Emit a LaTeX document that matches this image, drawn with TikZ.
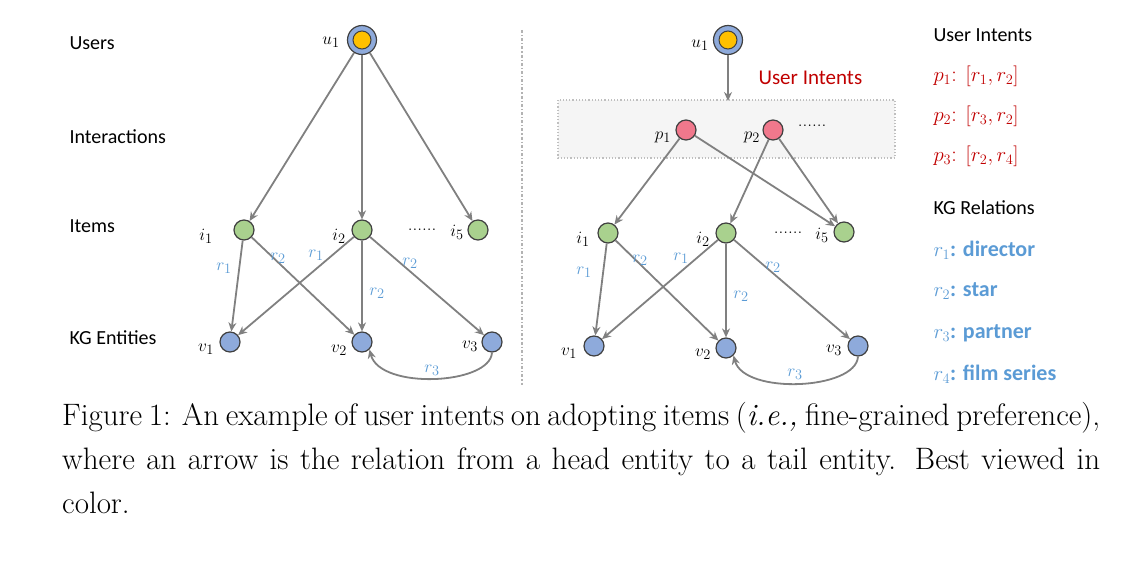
\documentclass[tikz,border=0pt]{standalone}
\usepackage{fontspec}
\newfontfamily\crl{Carlito}
\usetikzlibrary{arrows.meta}
\definecolor{eg}{RGB}{128,128,128}
\definecolor{bf}{RGB}{142,170,219}
\definecolor{gf}{RGB}{169,209,142}
\definecolor{pf}{RGB}{240,120,140}
\definecolor{of}{RGB}{255,192,0}
\definecolor{tb}{RGB}{91,155,213}
\definecolor{tr}{RGB}{192,0,0}
\begin{document}
\begin{tikzpicture}[x=1pt,y=-1pt,
 nd/.style={circle,draw=black!75,line width=1.2pt,minimum size=20pt,inner sep=0pt},
 ent/.style={nd,fill=bf}, itm/.style={nd,fill=gf}, int/.style={nd,fill=pf},
 usr/.style={circle,draw=black!75,line width=1.2pt,fill=bf,minimum size=29pt,inner sep=0pt},
 e/.style={draw=eg,line width=1.8pt,-{Stealth[length=9pt,width=8pt]}},
 lb/.style={font=\fontsize{19}{20}\selectfont},
 rl/.style={font=\fontsize{19}{20}\selectfont,text=tb},
 row/.style={anchor=west,font=\crl\fontsize{20}{22}\selectfont},
 leg/.style={anchor=west,font=\fontsize{22}{24}\selectfont}]
\useasboundingbox (0,0) rectangle (1134,578);
% row labels
\node[row] (t1) at (66,43) {Users};
\node[row] (t2) at (66,137) {Interactions};
\node[row] (t3) at (66,226) {Items};
\node[row] (t4) at (66,338) {KG Entities};
\draw[eg!60,line width=1.2pt,dash dot] (522,30) -- (522,385);
% left
\node[usr] (u) at (362,40) {}; \fill[of,draw=black!75,line width=1pt] (u) circle (9pt);
\node[lb] at (331,42) {$u_1$};
\node[itm] (i1) at (244,230) {}; \node[itm] (i2) at (362,230) {}; \node[itm] (i5) at (478,230) {};
\node[lb] at (206,236) {$i_1$}; \node[lb] at (339,236) {$i_2$}; \node[lb] at (457,232) {$i_5$};
\node[lb] at (422,230) {......};
\node[ent] (v1) at (230,342) {}; \node[ent] (v2) at (362,342) {}; \node[ent] (v3) at (492,342) {};
\node[lb] at (206,349) {$v_1$}; \node[lb] at (339,350) {$v_2$}; \node[lb] at (470,346) {$v_3$};
\draw[e] (u) -- (i1); \draw[e] (u) -- (i2); \draw[e] (u) -- (i5);
\draw[e] (i1) -- (v1); \draw[e] (i1) -- (v2); \draw[e] (i2) -- (v1); \draw[e] (i2) -- (v2); \draw[e] (i2) -- (v3);
\draw[e] (v3.south) .. controls (490,385) and (380,390) .. (v2.south east);
\node[rl] at (224,268) {$r_1$}; \node[rl] at (278,258) {$r_2$}; \node[rl] at (316,255) {$r_1$};
\node[rl] at (377,293) {$r_2$}; \node[rl] at (410,263) {$r_2$}; \node[rl] at (432,370) {$r_3$};
% right
\node[usr] (uu) at (728,40) {}; \fill[of,draw=black!75,line width=1pt] (uu) circle (9pt);
\node[lb] at (700,45) {$u_1$};
\draw[gray!50,line width=1.2pt,dotted,fill=black!4] (558,100) rectangle (895,158);
\coordinate (bx) at (728,101);
\draw[e] (uu) -- (bx);
\node[anchor=west,font=\crl\fontsize{21}{22}\selectfont,text=tr] at (755,78) {User Intents};
\node[int] (p1) at (686,130) {}; \node[int] (p2) at (773,130) {};
\node[lb] at (663,137) {$p_1$}; \node[lb] at (752,137) {$p_2$}; \node[lb] at (812,126) {......};
\node[itm] (j1) at (608,233) {}; \node[itm] (j2) at (726,233) {}; \node[itm] (j5) at (844,232) {};
\node[lb] at (583,239) {$i_1$}; \node[lb] at (703,239) {$i_2$}; \node[lb] at (822,235) {$i_5$};
\node[lb] at (788,233) {......};
\node[ent] (w1) at (594,346) {}; \node[ent] (w2) at (726,348) {}; \node[ent] (w3) at (858,346) {};
\node[lb] at (569,353) {$v_1$}; \node[lb] at (703,354) {$v_2$}; \node[lb] at (834,350) {$v_3$};
\draw[e] (p1) -- (j1); \draw[e] (p1) -- (j5); \draw[e] (p2) -- (j2); \draw[e] (p2) -- (j5);
\draw[e] (j1) -- (w1); \draw[e] (j1) -- (w2); \draw[e] (j2) -- (w1); \draw[e] (j2) -- (w2); \draw[e] (j2) -- (w3);
\draw[e] (w3.south) .. controls (856,390) and (744,395) .. (w2.south east);
\node[rl] at (584,272) {$r_1$}; \node[rl] at (640,260) {$r_2$}; \node[rl] at (681,258) {$r_1$};
\node[rl] at (741,296) {$r_2$}; \node[rl] at (773,267) {$r_2$}; \node[rl] at (795,374) {$r_3$};
% legend
\node[row] (lg1) at (930,35) {User Intents};
\node[leg,text=tr] (lp1) at (930,76) {$p_1$: $[r_1, r_2]$};
\node[leg,text=tr] (lp2) at (930,116) {$p_2$: $[r_3, r_2]$};
\node[leg,text=tr] (lp3) at (930,156) {$p_3$: $[r_2, r_4]$};
\node[row] (lg2) at (930,208) {KG Relations};
\node[leg,text=tb] (lr1) at (930,250) {$r_1$\textbf{\crl : director}};
\node[leg,text=tb] (lr2) at (930,291) {$r_2$\textbf{\crl : star}};
\node[leg,text=tb] (lr3) at (930,333) {$r_3$\textbf{\crl : partner}};
\node[leg,text=tb] (lr4) at (930,374) {$r_4$\textbf{\crl : film series}};
% caption
\node[anchor=north west,inner sep=0pt,text width=1038pt,align=justify,font=\fontsize{31}{44}\selectfont] (cap) at (62,402)
{Figure 1: An example of user intents on adopting items (\textit{i.e.,} fine-grained preference), where an arrow is the relation from a head entity to a tail entity. Best viewed in color.};
\end{tikzpicture}
\end{document}
